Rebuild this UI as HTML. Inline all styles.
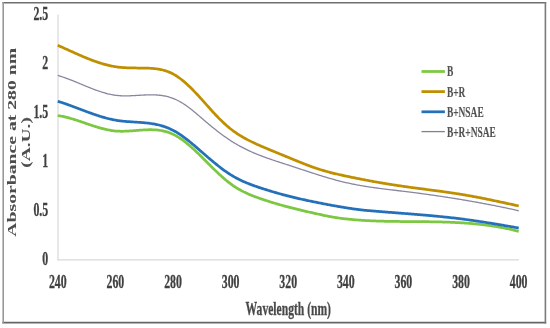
<!DOCTYPE html>
<html><head><meta charset="utf-8"><style>
html,body{margin:0;padding:0;background:#fff;}
svg{display:block;filter:blur(0.35px);}
text{font-family:"Liberation Serif",serif;font-weight:bold;}
</style></head><body>
<svg width="550" height="328" viewBox="0 0 550 328">
<rect x="0" y="0" width="550" height="328" fill="#fff"/>
<line x1="2.4" y1="2.8" x2="546.2" y2="2.8" stroke="#6e6e6e" stroke-width="1.6"/>
<line x1="2.4" y1="322.6" x2="546.2" y2="322.6" stroke="#666" stroke-width="1.7"/>
<line x1="3.2" y1="2" x2="3.2" y2="323.4" stroke="#999" stroke-width="1.6"/>
<line x1="545.4" y1="2" x2="545.4" y2="323.4" stroke="#7a7a7a" stroke-width="1.6"/>
<line x1="58" y1="14.6" x2="58" y2="260.5" stroke="#d9d9d9" stroke-width="1.2"/>
<line x1="57.4" y1="259.9" x2="519" y2="259.9" stroke="#d9d9d9" stroke-width="1.2"/>
<path d="M57.75 75.45 L58.75 75.74 L59.75 76.04 L60.75 76.35 L61.75 76.67 L62.75 77.00 L63.75 77.34 L64.75 77.69 L65.75 78.05 L66.75 78.41 L67.75 78.78 L68.75 79.16 L69.75 79.54 L70.75 79.93 L71.75 80.32 L72.75 80.72 L73.75 81.12 L74.75 81.53 L75.75 81.94 L76.75 82.35 L77.75 82.76 L78.75 83.18 L79.75 83.59 L80.75 84.01 L81.75 84.43 L82.75 84.85 L83.75 85.26 L84.75 85.68 L85.75 86.09 L86.75 86.50 L87.75 86.91 L88.75 87.31 L89.75 87.72 L90.75 88.11 L91.75 88.51 L92.75 88.89 L93.75 89.28 L94.75 89.65 L95.75 90.02 L96.75 90.38 L97.75 90.74 L98.75 91.08 L99.75 91.42 L100.75 91.75 L101.75 92.07 L102.75 92.38 L103.75 92.68 L104.75 92.97 L105.75 93.25 L106.75 93.51 L107.75 93.77 L108.75 94.01 L109.75 94.23 L110.75 94.45 L111.75 94.64 L112.75 94.83 L113.75 95.00 L114.75 95.15 L115.75 95.29 L116.75 95.41 L117.75 95.51 L118.75 95.60 L119.75 95.67 L120.75 95.73 L121.75 95.78 L122.75 95.82 L123.75 95.84 L124.75 95.85 L125.75 95.86 L126.75 95.85 L127.75 95.84 L128.75 95.81 L129.75 95.78 L130.75 95.75 L131.75 95.71 L132.75 95.66 L133.75 95.61 L134.75 95.55 L135.75 95.50 L136.75 95.44 L137.75 95.38 L138.75 95.32 L139.75 95.26 L140.75 95.20 L141.75 95.14 L142.75 95.09 L143.75 95.03 L144.75 94.99 L145.75 94.94 L146.75 94.91 L147.75 94.88 L148.75 94.85 L149.75 94.83 L150.75 94.83 L151.75 94.83 L152.75 94.84 L153.75 94.86 L154.75 94.89 L155.75 94.94 L156.75 95.00 L157.75 95.07 L158.75 95.15 L159.75 95.26 L160.75 95.37 L161.75 95.51 L162.75 95.66 L163.75 95.83 L164.75 96.01 L165.75 96.22 L166.75 96.45 L167.75 96.70 L168.75 96.97 L169.75 97.26 L170.75 97.57 L171.75 97.91 L172.75 98.28 L173.75 98.67 L174.75 99.09 L175.75 99.53 L176.75 99.99 L177.75 100.49 L178.75 101.00 L179.75 101.54 L180.75 102.11 L181.75 102.69 L182.75 103.31 L183.75 103.94 L184.75 104.59 L185.75 105.27 L186.75 105.97 L187.75 106.68 L188.75 107.42 L189.75 108.18 L190.75 108.96 L191.75 109.75 L192.75 110.56 L193.75 111.38 L194.75 112.21 L195.75 113.05 L196.75 113.90 L197.75 114.76 L198.75 115.62 L199.75 116.49 L200.75 117.35 L201.75 118.22 L202.75 119.08 L203.75 119.94 L204.75 120.80 L205.75 121.65 L206.75 122.49 L207.75 123.34 L208.75 124.17 L209.75 125.00 L210.75 125.83 L211.75 126.65 L212.75 127.46 L213.75 128.27 L214.75 129.07 L215.75 129.86 L216.75 130.65 L217.75 131.43 L218.75 132.20 L219.75 132.96 L220.75 133.71 L221.75 134.46 L222.75 135.19 L223.75 135.92 L224.75 136.63 L225.75 137.34 L226.75 138.04 L227.75 138.72 L228.75 139.40 L229.75 140.06 L230.75 140.71 L231.75 141.36 L232.75 141.99 L233.75 142.60 L234.75 143.21 L235.75 143.80 L236.75 144.39 L237.75 144.96 L238.75 145.52 L239.75 146.08 L240.75 146.62 L241.75 147.15 L242.75 147.67 L243.75 148.19 L244.75 148.69 L245.75 149.18 L246.75 149.67 L247.75 150.15 L248.75 150.62 L249.75 151.08 L250.75 151.53 L251.75 151.98 L252.75 152.42 L253.75 152.85 L254.75 153.28 L255.75 153.69 L256.75 154.10 L257.75 154.51 L258.75 154.91 L259.75 155.30 L260.75 155.69 L261.75 156.07 L262.75 156.45 L263.75 156.82 L264.75 157.19 L265.75 157.56 L266.75 157.92 L267.75 158.27 L268.75 158.62 L269.75 158.97 L270.75 159.32 L271.75 159.66 L272.75 160.00 L273.75 160.33 L274.75 160.67 L275.75 161.00 L276.75 161.33 L277.75 161.66 L278.75 161.99 L279.75 162.31 L280.75 162.64 L281.75 162.96 L282.75 163.28 L283.75 163.61 L284.75 163.93 L285.75 164.25 L286.75 164.58 L287.75 164.90 L288.75 165.22 L289.75 165.55 L290.75 165.88 L291.75 166.20 L292.75 166.53 L293.75 166.86 L294.75 167.19 L295.75 167.52 L296.75 167.85 L297.75 168.18 L298.75 168.51 L299.75 168.84 L300.75 169.17 L301.75 169.50 L302.75 169.83 L303.75 170.16 L304.75 170.49 L305.75 170.82 L306.75 171.15 L307.75 171.48 L308.75 171.81 L309.75 172.13 L310.75 172.46 L311.75 172.78 L312.75 173.11 L313.75 173.43 L314.75 173.75 L315.75 174.07 L316.75 174.39 L317.75 174.70 L318.75 175.02 L319.75 175.33 L320.75 175.64 L321.75 175.95 L322.75 176.26 L323.75 176.56 L324.75 176.87 L325.75 177.17 L326.75 177.46 L327.75 177.76 L328.75 178.05 L329.75 178.34 L330.75 178.63 L331.75 178.91 L332.75 179.19 L333.75 179.47 L334.75 179.75 L335.75 180.02 L336.75 180.29 L337.75 180.55 L338.75 180.81 L339.75 181.07 L340.75 181.33 L341.75 181.58 L342.75 181.82 L343.75 182.06 L344.75 182.30 L345.75 182.54 L346.75 182.77 L347.75 182.99 L348.75 183.21 L349.75 183.43 L350.75 183.64 L351.75 183.85 L352.75 184.06 L353.75 184.26 L354.75 184.45 L355.75 184.65 L356.75 184.84 L357.75 185.02 L358.75 185.21 L359.75 185.38 L360.75 185.56 L361.75 185.73 L362.75 185.90 L363.75 186.07 L364.75 186.24 L365.75 186.40 L366.75 186.56 L367.75 186.71 L368.75 186.86 L369.75 187.02 L370.75 187.16 L371.75 187.31 L372.75 187.46 L373.75 187.60 L374.75 187.74 L375.75 187.88 L376.75 188.01 L377.75 188.15 L378.75 188.28 L379.75 188.41 L380.75 188.54 L381.75 188.67 L382.75 188.80 L383.75 188.93 L384.75 189.05 L385.75 189.17 L386.75 189.30 L387.75 189.42 L388.75 189.54 L389.75 189.66 L390.75 189.78 L391.75 189.90 L392.75 190.02 L393.75 190.14 L394.75 190.26 L395.75 190.38 L396.75 190.50 L397.75 190.62 L398.75 190.74 L399.75 190.86 L400.75 190.98 L401.75 191.10 L402.75 191.22 L403.75 191.34 L404.75 191.46 L405.75 191.58 L406.75 191.71 L407.75 191.83 L408.75 191.96 L409.75 192.08 L410.75 192.21 L411.75 192.33 L412.75 192.46 L413.75 192.59 L414.75 192.72 L415.75 192.85 L416.75 192.98 L417.75 193.11 L418.75 193.24 L419.75 193.37 L420.75 193.51 L421.75 193.64 L422.75 193.78 L423.75 193.91 L424.75 194.05 L425.75 194.18 L426.75 194.32 L427.75 194.46 L428.75 194.60 L429.75 194.74 L430.75 194.88 L431.75 195.02 L432.75 195.16 L433.75 195.31 L434.75 195.45 L435.75 195.60 L436.75 195.74 L437.75 195.89 L438.75 196.04 L439.75 196.18 L440.75 196.33 L441.75 196.48 L442.75 196.63 L443.75 196.78 L444.75 196.94 L445.75 197.09 L446.75 197.24 L447.75 197.40 L448.75 197.55 L449.75 197.71 L450.75 197.87 L451.75 198.02 L452.75 198.18 L453.75 198.34 L454.75 198.50 L455.75 198.66 L456.75 198.83 L457.75 198.99 L458.75 199.15 L459.75 199.32 L460.75 199.48 L461.75 199.65 L462.75 199.82 L463.75 199.99 L464.75 200.16 L465.75 200.33 L466.75 200.50 L467.75 200.67 L468.75 200.84 L469.75 201.02 L470.75 201.19 L471.75 201.37 L472.75 201.55 L473.75 201.72 L474.75 201.90 L475.75 202.08 L476.75 202.26 L477.75 202.44 L478.75 202.63 L479.75 202.81 L480.75 202.99 L481.75 203.18 L482.75 203.36 L483.75 203.55 L484.75 203.74 L485.75 203.93 L486.75 204.12 L487.75 204.31 L488.75 204.50 L489.75 204.70 L490.75 204.89 L491.75 205.09 L492.75 205.28 L493.75 205.48 L494.75 205.68 L495.75 205.88 L496.75 206.08 L497.75 206.28 L498.75 206.48 L499.75 206.68 L500.75 206.89 L501.75 207.09 L502.75 207.30 L503.75 207.51 L504.75 207.72 L505.75 207.93 L506.75 208.14 L507.75 208.35 L508.75 208.56 L509.75 208.77 L510.75 208.99 L511.75 209.21 L512.75 209.42 L513.75 209.64 L514.75 209.86 L515.75 210.08 L516.75 210.30 L517.75 210.52 L518.75 210.75" fill="none" stroke="#8a86a0" stroke-width="1.3" stroke-linecap="butt" stroke-linejoin="round"/>
<path d="M57.75 115.59 L58.75 115.74 L59.75 115.90 L60.75 116.07 L61.75 116.26 L62.75 116.46 L63.75 116.68 L64.75 116.90 L65.75 117.14 L66.75 117.38 L67.75 117.64 L68.75 117.90 L69.75 118.18 L70.75 118.46 L71.75 118.75 L72.75 119.05 L73.75 119.35 L74.75 119.66 L75.75 119.98 L76.75 120.30 L77.75 120.63 L78.75 120.96 L79.75 121.29 L80.75 121.63 L81.75 121.97 L82.75 122.31 L83.75 122.65 L84.75 122.99 L85.75 123.33 L86.75 123.68 L87.75 124.02 L88.75 124.36 L89.75 124.70 L90.75 125.03 L91.75 125.36 L92.75 125.69 L93.75 126.02 L94.75 126.34 L95.75 126.65 L96.75 126.96 L97.75 127.26 L98.75 127.56 L99.75 127.85 L100.75 128.13 L101.75 128.40 L102.75 128.66 L103.75 128.92 L104.75 129.16 L105.75 129.39 L106.75 129.61 L107.75 129.82 L108.75 130.02 L109.75 130.21 L110.75 130.38 L111.75 130.53 L112.75 130.68 L113.75 130.80 L114.75 130.92 L115.75 131.01 L116.75 131.09 L117.75 131.16 L118.75 131.21 L119.75 131.24 L120.75 131.26 L121.75 131.27 L122.75 131.27 L123.75 131.25 L124.75 131.23 L125.75 131.20 L126.75 131.16 L127.75 131.11 L128.75 131.05 L129.75 130.99 L130.75 130.92 L131.75 130.85 L132.75 130.77 L133.75 130.70 L134.75 130.62 L135.75 130.53 L136.75 130.45 L137.75 130.37 L138.75 130.29 L139.75 130.21 L140.75 130.14 L141.75 130.07 L142.75 130.00 L143.75 129.94 L144.75 129.88 L145.75 129.83 L146.75 129.79 L147.75 129.76 L148.75 129.74 L149.75 129.73 L150.75 129.73 L151.75 129.74 L152.75 129.76 L153.75 129.80 L154.75 129.85 L155.75 129.91 L156.75 129.99 L157.75 130.09 L158.75 130.21 L159.75 130.34 L160.75 130.50 L161.75 130.67 L162.75 130.87 L163.75 131.08 L164.75 131.32 L165.75 131.58 L166.75 131.87 L167.75 132.18 L168.75 132.51 L169.75 132.88 L170.75 133.27 L171.75 133.68 L172.75 134.13 L173.75 134.61 L174.75 135.12 L175.75 135.65 L176.75 136.22 L177.75 136.81 L178.75 137.43 L179.75 138.08 L180.75 138.75 L181.75 139.44 L182.75 140.16 L183.75 140.90 L184.75 141.67 L185.75 142.45 L186.75 143.25 L187.75 144.07 L188.75 144.91 L189.75 145.76 L190.75 146.64 L191.75 147.52 L192.75 148.42 L193.75 149.33 L194.75 150.26 L195.75 151.20 L196.75 152.14 L197.75 153.10 L198.75 154.06 L199.75 155.04 L200.75 156.02 L201.75 157.00 L202.75 157.99 L203.75 158.98 L204.75 159.98 L205.75 160.98 L206.75 161.98 L207.75 162.98 L208.75 163.98 L209.75 164.98 L210.75 165.97 L211.75 166.97 L212.75 167.95 L213.75 168.94 L214.75 169.91 L215.75 170.88 L216.75 171.84 L217.75 172.80 L218.75 173.74 L219.75 174.67 L220.75 175.59 L221.75 176.50 L222.75 177.39 L223.75 178.27 L224.75 179.14 L225.75 179.98 L226.75 180.81 L227.75 181.63 L228.75 182.42 L229.75 183.19 L230.75 183.95 L231.75 184.68 L232.75 185.39 L233.75 186.07 L234.75 186.74 L235.75 187.38 L236.75 188.01 L237.75 188.61 L238.75 189.20 L239.75 189.77 L240.75 190.32 L241.75 190.85 L242.75 191.37 L243.75 191.88 L244.75 192.36 L245.75 192.84 L246.75 193.30 L247.75 193.75 L248.75 194.19 L249.75 194.61 L250.75 195.03 L251.75 195.43 L252.75 195.83 L253.75 196.21 L254.75 196.59 L255.75 196.96 L256.75 197.33 L257.75 197.69 L258.75 198.04 L259.75 198.39 L260.75 198.74 L261.75 199.08 L262.75 199.42 L263.75 199.75 L264.75 200.09 L265.75 200.42 L266.75 200.74 L267.75 201.06 L268.75 201.38 L269.75 201.70 L270.75 202.02 L271.75 202.33 L272.75 202.63 L273.75 202.94 L274.75 203.24 L275.75 203.54 L276.75 203.84 L277.75 204.13 L278.75 204.42 L279.75 204.71 L280.75 204.99 L281.75 205.27 L282.75 205.55 L283.75 205.83 L284.75 206.10 L285.75 206.38 L286.75 206.64 L287.75 206.91 L288.75 207.17 L289.75 207.43 L290.75 207.69 L291.75 207.95 L292.75 208.20 L293.75 208.45 L294.75 208.70 L295.75 208.95 L296.75 209.19 L297.75 209.43 L298.75 209.68 L299.75 209.91 L300.75 210.15 L301.75 210.39 L302.75 210.62 L303.75 210.86 L304.75 211.09 L305.75 211.32 L306.75 211.55 L307.75 211.77 L308.75 212.00 L309.75 212.23 L310.75 212.45 L311.75 212.68 L312.75 212.90 L313.75 213.12 L314.75 213.35 L315.75 213.57 L316.75 213.79 L317.75 214.01 L318.75 214.24 L319.75 214.46 L320.75 214.68 L321.75 214.89 L322.75 215.11 L323.75 215.32 L324.75 215.54 L325.75 215.74 L326.75 215.95 L327.75 216.15 L328.75 216.35 L329.75 216.54 L330.75 216.72 L331.75 216.91 L332.75 217.08 L333.75 217.25 L334.75 217.41 L335.75 217.57 L336.75 217.72 L337.75 217.87 L338.75 218.01 L339.75 218.15 L340.75 218.28 L341.75 218.41 L342.75 218.54 L343.75 218.66 L344.75 218.77 L345.75 218.88 L346.75 218.99 L347.75 219.10 L348.75 219.20 L349.75 219.30 L350.75 219.40 L351.75 219.49 L352.75 219.58 L353.75 219.67 L354.75 219.76 L355.75 219.84 L356.75 219.92 L357.75 220.00 L358.75 220.07 L359.75 220.15 L360.75 220.21 L361.75 220.28 L362.75 220.35 L363.75 220.41 L364.75 220.47 L365.75 220.53 L366.75 220.58 L367.75 220.64 L368.75 220.69 L369.75 220.74 L370.75 220.78 L371.75 220.83 L372.75 220.87 L373.75 220.91 L374.75 220.95 L375.75 220.99 L376.75 221.03 L377.75 221.06 L378.75 221.10 L379.75 221.13 L380.75 221.16 L381.75 221.18 L382.75 221.21 L383.75 221.24 L384.75 221.26 L385.75 221.28 L386.75 221.31 L387.75 221.33 L388.75 221.34 L389.75 221.36 L390.75 221.38 L391.75 221.40 L392.75 221.41 L393.75 221.43 L394.75 221.44 L395.75 221.45 L396.75 221.46 L397.75 221.48 L398.75 221.49 L399.75 221.50 L400.75 221.51 L401.75 221.51 L402.75 221.52 L403.75 221.53 L404.75 221.54 L405.75 221.55 L406.75 221.55 L407.75 221.56 L408.75 221.57 L409.75 221.57 L410.75 221.58 L411.75 221.59 L412.75 221.59 L413.75 221.60 L414.75 221.61 L415.75 221.61 L416.75 221.62 L417.75 221.63 L418.75 221.64 L419.75 221.64 L420.75 221.65 L421.75 221.66 L422.75 221.67 L423.75 221.68 L424.75 221.69 L425.75 221.70 L426.75 221.71 L427.75 221.72 L428.75 221.74 L429.75 221.75 L430.75 221.76 L431.75 221.78 L432.75 221.79 L433.75 221.81 L434.75 221.83 L435.75 221.85 L436.75 221.87 L437.75 221.89 L438.75 221.91 L439.75 221.93 L440.75 221.96 L441.75 221.98 L442.75 222.01 L443.75 222.04 L444.75 222.07 L445.75 222.10 L446.75 222.14 L447.75 222.17 L448.75 222.21 L449.75 222.24 L450.75 222.28 L451.75 222.32 L452.75 222.37 L453.75 222.41 L454.75 222.46 L455.75 222.51 L456.75 222.56 L457.75 222.61 L458.75 222.66 L459.75 222.72 L460.75 222.78 L461.75 222.84 L462.75 222.90 L463.75 222.97 L464.75 223.04 L465.75 223.11 L466.75 223.18 L467.75 223.25 L468.75 223.33 L469.75 223.41 L470.75 223.49 L471.75 223.58 L472.75 223.67 L473.75 223.76 L474.75 223.85 L475.75 223.94 L476.75 224.04 L477.75 224.15 L478.75 224.25 L479.75 224.36 L480.75 224.47 L481.75 224.58 L482.75 224.70 L483.75 224.82 L484.75 224.94 L485.75 225.07 L486.75 225.20 L487.75 225.33 L488.75 225.46 L489.75 225.60 L490.75 225.75 L491.75 225.89 L492.75 226.04 L493.75 226.20 L494.75 226.35 L495.75 226.51 L496.75 226.68 L497.75 226.85 L498.75 227.02 L499.75 227.20 L500.75 227.38 L501.75 227.56 L502.75 227.75 L503.75 227.94 L504.75 228.14 L505.75 228.33 L506.75 228.54 L507.75 228.75 L508.75 228.96 L509.75 229.18 L510.75 229.40 L511.75 229.62 L512.75 229.85 L513.75 230.09 L514.75 230.33 L515.75 230.57 L516.75 230.82 L517.75 231.07 L518.75 231.33" fill="none" stroke="#7cc842" stroke-width="2.75" stroke-linecap="butt" stroke-linejoin="round"/>
<path d="M57.75 101.30 L58.75 101.61 L59.75 101.92 L60.75 102.23 L61.75 102.56 L62.75 102.89 L63.75 103.22 L64.75 103.56 L65.75 103.90 L66.75 104.25 L67.75 104.61 L68.75 104.96 L69.75 105.32 L70.75 105.69 L71.75 106.05 L72.75 106.42 L73.75 106.80 L74.75 107.17 L75.75 107.54 L76.75 107.92 L77.75 108.30 L78.75 108.68 L79.75 109.06 L80.75 109.43 L81.75 109.81 L82.75 110.19 L83.75 110.57 L84.75 110.94 L85.75 111.32 L86.75 111.69 L87.75 112.06 L88.75 112.42 L89.75 112.79 L90.75 113.15 L91.75 113.51 L92.75 113.86 L93.75 114.21 L94.75 114.56 L95.75 114.90 L96.75 115.23 L97.75 115.56 L98.75 115.89 L99.75 116.20 L100.75 116.51 L101.75 116.82 L102.75 117.12 L103.75 117.41 L104.75 117.69 L105.75 117.96 L106.75 118.23 L107.75 118.49 L108.75 118.74 L109.75 118.98 L110.75 119.21 L111.75 119.43 L112.75 119.63 L113.75 119.83 L114.75 120.02 L115.75 120.20 L116.75 120.36 L117.75 120.52 L118.75 120.66 L119.75 120.80 L120.75 120.92 L121.75 121.04 L122.75 121.15 L123.75 121.25 L124.75 121.34 L125.75 121.43 L126.75 121.52 L127.75 121.59 L128.75 121.67 L129.75 121.74 L130.75 121.81 L131.75 121.87 L132.75 121.94 L133.75 122.00 L134.75 122.06 L135.75 122.12 L136.75 122.19 L137.75 122.25 L138.75 122.32 L139.75 122.39 L140.75 122.46 L141.75 122.54 L142.75 122.62 L143.75 122.70 L144.75 122.79 L145.75 122.89 L146.75 123.00 L147.75 123.11 L148.75 123.23 L149.75 123.36 L150.75 123.50 L151.75 123.64 L152.75 123.80 L153.75 123.97 L154.75 124.16 L155.75 124.35 L156.75 124.56 L157.75 124.78 L158.75 125.01 L159.75 125.26 L160.75 125.53 L161.75 125.81 L162.75 126.11 L163.75 126.43 L164.75 126.76 L165.75 127.11 L166.75 127.49 L167.75 127.88 L168.75 128.29 L169.75 128.72 L170.75 129.18 L171.75 129.65 L172.75 130.15 L173.75 130.68 L174.75 131.23 L175.75 131.80 L176.75 132.39 L177.75 133.00 L178.75 133.64 L179.75 134.30 L180.75 134.97 L181.75 135.66 L182.75 136.37 L183.75 137.10 L184.75 137.84 L185.75 138.59 L186.75 139.36 L187.75 140.14 L188.75 140.94 L189.75 141.74 L190.75 142.56 L191.75 143.39 L192.75 144.22 L193.75 145.06 L194.75 145.91 L195.75 146.76 L196.75 147.62 L197.75 148.49 L198.75 149.35 L199.75 150.22 L200.75 151.09 L201.75 151.96 L202.75 152.83 L203.75 153.70 L204.75 154.57 L205.75 155.44 L206.75 156.30 L207.75 157.17 L208.75 158.02 L209.75 158.88 L210.75 159.72 L211.75 160.57 L212.75 161.40 L213.75 162.23 L214.75 163.05 L215.75 163.87 L216.75 164.68 L217.75 165.48 L218.75 166.26 L219.75 167.04 L220.75 167.81 L221.75 168.57 L222.75 169.32 L223.75 170.05 L224.75 170.77 L225.75 171.48 L226.75 172.18 L227.75 172.86 L228.75 173.52 L229.75 174.17 L230.75 174.81 L231.75 175.43 L232.75 176.03 L233.75 176.61 L234.75 177.18 L235.75 177.73 L236.75 178.27 L237.75 178.80 L238.75 179.31 L239.75 179.80 L240.75 180.28 L241.75 180.76 L242.75 181.21 L243.75 181.66 L244.75 182.10 L245.75 182.52 L246.75 182.94 L247.75 183.35 L248.75 183.74 L249.75 184.13 L250.75 184.51 L251.75 184.89 L252.75 185.25 L253.75 185.61 L254.75 185.97 L255.75 186.32 L256.75 186.66 L257.75 187.00 L258.75 187.34 L259.75 187.67 L260.75 188.00 L261.75 188.32 L262.75 188.65 L263.75 188.97 L264.75 189.29 L265.75 189.60 L266.75 189.92 L267.75 190.23 L268.75 190.54 L269.75 190.85 L270.75 191.15 L271.75 191.45 L272.75 191.75 L273.75 192.05 L274.75 192.34 L275.75 192.63 L276.75 192.92 L277.75 193.20 L278.75 193.49 L279.75 193.77 L280.75 194.05 L281.75 194.32 L282.75 194.59 L283.75 194.86 L284.75 195.13 L285.75 195.39 L286.75 195.65 L287.75 195.91 L288.75 196.17 L289.75 196.42 L290.75 196.67 L291.75 196.92 L292.75 197.16 L293.75 197.40 L294.75 197.64 L295.75 197.88 L296.75 198.11 L297.75 198.35 L298.75 198.58 L299.75 198.81 L300.75 199.03 L301.75 199.25 L302.75 199.48 L303.75 199.70 L304.75 199.91 L305.75 200.13 L306.75 200.35 L307.75 200.56 L308.75 200.77 L309.75 200.98 L310.75 201.19 L311.75 201.39 L312.75 201.60 L313.75 201.80 L314.75 202.01 L315.75 202.21 L316.75 202.41 L317.75 202.61 L318.75 202.81 L319.75 203.01 L320.75 203.20 L321.75 203.40 L322.75 203.59 L323.75 203.79 L324.75 203.98 L325.75 204.17 L326.75 204.36 L327.75 204.55 L328.75 204.74 L329.75 204.93 L330.75 205.11 L331.75 205.30 L332.75 205.48 L333.75 205.66 L334.75 205.84 L335.75 206.02 L336.75 206.19 L337.75 206.37 L338.75 206.54 L339.75 206.71 L340.75 206.88 L341.75 207.05 L342.75 207.22 L343.75 207.38 L344.75 207.54 L345.75 207.71 L346.75 207.86 L347.75 208.02 L348.75 208.18 L349.75 208.33 L350.75 208.48 L351.75 208.63 L352.75 208.77 L353.75 208.92 L354.75 209.06 L355.75 209.19 L356.75 209.33 L357.75 209.46 L358.75 209.58 L359.75 209.70 L360.75 209.82 L361.75 209.94 L362.75 210.05 L363.75 210.16 L364.75 210.26 L365.75 210.36 L366.75 210.45 L367.75 210.55 L368.75 210.64 L369.75 210.73 L370.75 210.82 L371.75 210.90 L372.75 210.99 L373.75 211.07 L374.75 211.15 L375.75 211.23 L376.75 211.31 L377.75 211.39 L378.75 211.47 L379.75 211.55 L380.75 211.63 L381.75 211.71 L382.75 211.79 L383.75 211.87 L384.75 211.95 L385.75 212.03 L386.75 212.11 L387.75 212.18 L388.75 212.26 L389.75 212.34 L390.75 212.42 L391.75 212.49 L392.75 212.57 L393.75 212.65 L394.75 212.73 L395.75 212.80 L396.75 212.88 L397.75 212.96 L398.75 213.04 L399.75 213.11 L400.75 213.19 L401.75 213.27 L402.75 213.35 L403.75 213.42 L404.75 213.50 L405.75 213.58 L406.75 213.66 L407.75 213.74 L408.75 213.81 L409.75 213.89 L410.75 213.97 L411.75 214.05 L412.75 214.13 L413.75 214.21 L414.75 214.29 L415.75 214.37 L416.75 214.45 L417.75 214.54 L418.75 214.62 L419.75 214.70 L420.75 214.78 L421.75 214.87 L422.75 214.95 L423.75 215.04 L424.75 215.12 L425.75 215.21 L426.75 215.30 L427.75 215.38 L428.75 215.47 L429.75 215.56 L430.75 215.65 L431.75 215.74 L432.75 215.83 L433.75 215.93 L434.75 216.02 L435.75 216.11 L436.75 216.21 L437.75 216.31 L438.75 216.40 L439.75 216.50 L440.75 216.60 L441.75 216.70 L442.75 216.80 L443.75 216.90 L444.75 217.01 L445.75 217.11 L446.75 217.22 L447.75 217.32 L448.75 217.43 L449.75 217.54 L450.75 217.65 L451.75 217.77 L452.75 217.88 L453.75 217.99 L454.75 218.11 L455.75 218.23 L456.75 218.35 L457.75 218.47 L458.75 218.59 L459.75 218.71 L460.75 218.84 L461.75 218.96 L462.75 219.09 L463.75 219.22 L464.75 219.35 L465.75 219.49 L466.75 219.62 L467.75 219.76 L468.75 219.89 L469.75 220.03 L470.75 220.17 L471.75 220.31 L472.75 220.46 L473.75 220.60 L474.75 220.75 L475.75 220.89 L476.75 221.04 L477.75 221.19 L478.75 221.34 L479.75 221.49 L480.75 221.64 L481.75 221.80 L482.75 221.95 L483.75 222.11 L484.75 222.26 L485.75 222.42 L486.75 222.58 L487.75 222.74 L488.75 222.90 L489.75 223.06 L490.75 223.22 L491.75 223.39 L492.75 223.55 L493.75 223.72 L494.75 223.88 L495.75 224.05 L496.75 224.21 L497.75 224.38 L498.75 224.55 L499.75 224.72 L500.75 224.89 L501.75 225.06 L502.75 225.23 L503.75 225.40 L504.75 225.57 L505.75 225.74 L506.75 225.91 L507.75 226.09 L508.75 226.26 L509.75 226.43 L510.75 226.61 L511.75 226.78 L512.75 226.95 L513.75 227.13 L514.75 227.30 L515.75 227.48 L516.75 227.65 L517.75 227.83 L518.75 228.00" fill="none" stroke="#2471b9" stroke-width="2.75" stroke-linecap="butt" stroke-linejoin="round"/>
<path d="M57.75 45.31 L58.75 45.75 L59.75 46.19 L60.75 46.64 L61.75 47.09 L62.75 47.54 L63.75 47.99 L64.75 48.44 L65.75 48.89 L66.75 49.35 L67.75 49.80 L68.75 50.25 L69.75 50.71 L70.75 51.16 L71.75 51.61 L72.75 52.06 L73.75 52.51 L74.75 52.96 L75.75 53.41 L76.75 53.85 L77.75 54.30 L78.75 54.74 L79.75 55.17 L80.75 55.61 L81.75 56.04 L82.75 56.46 L83.75 56.89 L84.75 57.30 L85.75 57.72 L86.75 58.13 L87.75 58.53 L88.75 58.93 L89.75 59.33 L90.75 59.71 L91.75 60.10 L92.75 60.47 L93.75 60.84 L94.75 61.20 L95.75 61.56 L96.75 61.90 L97.75 62.24 L98.75 62.58 L99.75 62.90 L100.75 63.22 L101.75 63.52 L102.75 63.82 L103.75 64.11 L104.75 64.39 L105.75 64.66 L106.75 64.92 L107.75 65.17 L108.75 65.40 L109.75 65.63 L110.75 65.85 L111.75 66.05 L112.75 66.25 L113.75 66.43 L114.75 66.60 L115.75 66.76 L116.75 66.90 L117.75 67.03 L118.75 67.15 L119.75 67.26 L120.75 67.36 L121.75 67.45 L122.75 67.53 L123.75 67.61 L124.75 67.67 L125.75 67.73 L126.75 67.78 L127.75 67.82 L128.75 67.85 L129.75 67.89 L130.75 67.91 L131.75 67.93 L132.75 67.95 L133.75 67.97 L134.75 67.98 L135.75 67.99 L136.75 68.00 L137.75 68.01 L138.75 68.02 L139.75 68.02 L140.75 68.03 L141.75 68.04 L142.75 68.06 L143.75 68.07 L144.75 68.09 L145.75 68.11 L146.75 68.13 L147.75 68.17 L148.75 68.20 L149.75 68.25 L150.75 68.31 L151.75 68.37 L152.75 68.44 L153.75 68.53 L154.75 68.63 L155.75 68.75 L156.75 68.87 L157.75 69.02 L158.75 69.18 L159.75 69.36 L160.75 69.56 L161.75 69.78 L162.75 70.02 L163.75 70.28 L164.75 70.56 L165.75 70.87 L166.75 71.21 L167.75 71.57 L168.75 71.95 L169.75 72.37 L170.75 72.81 L171.75 73.29 L172.75 73.80 L173.75 74.34 L174.75 74.91 L175.75 75.51 L176.75 76.15 L177.75 76.82 L178.75 77.51 L179.75 78.24 L180.75 78.99 L181.75 79.77 L182.75 80.57 L183.75 81.40 L184.75 82.26 L185.75 83.13 L186.75 84.03 L187.75 84.95 L188.75 85.89 L189.75 86.84 L190.75 87.82 L191.75 88.81 L192.75 89.82 L193.75 90.84 L194.75 91.88 L195.75 92.92 L196.75 93.99 L197.75 95.06 L198.75 96.14 L199.75 97.23 L200.75 98.33 L201.75 99.44 L202.75 100.55 L203.75 101.67 L204.75 102.80 L205.75 103.92 L206.75 105.05 L207.75 106.17 L208.75 107.29 L209.75 108.41 L210.75 109.53 L211.75 110.64 L212.75 111.74 L213.75 112.83 L214.75 113.91 L215.75 114.98 L216.75 116.03 L217.75 117.07 L218.75 118.10 L219.75 119.11 L220.75 120.10 L221.75 121.07 L222.75 122.02 L223.75 122.96 L224.75 123.88 L225.75 124.78 L226.75 125.66 L227.75 126.52 L228.75 127.36 L229.75 128.19 L230.75 128.99 L231.75 129.77 L232.75 130.53 L233.75 131.27 L234.75 131.99 L235.75 132.69 L236.75 133.38 L237.75 134.04 L238.75 134.69 L239.75 135.32 L240.75 135.94 L241.75 136.54 L242.75 137.13 L243.75 137.70 L244.75 138.26 L245.75 138.81 L246.75 139.35 L247.75 139.87 L248.75 140.39 L249.75 140.89 L250.75 141.39 L251.75 141.87 L252.75 142.35 L253.75 142.82 L254.75 143.28 L255.75 143.74 L256.75 144.19 L257.75 144.64 L258.75 145.08 L259.75 145.52 L260.75 145.95 L261.75 146.39 L262.75 146.82 L263.75 147.25 L264.75 147.67 L265.75 148.10 L266.75 148.52 L267.75 148.94 L268.75 149.36 L269.75 149.78 L270.75 150.20 L271.75 150.61 L272.75 151.03 L273.75 151.44 L274.75 151.85 L275.75 152.26 L276.75 152.67 L277.75 153.08 L278.75 153.49 L279.75 153.90 L280.75 154.31 L281.75 154.72 L282.75 155.13 L283.75 155.54 L284.75 155.95 L285.75 156.36 L286.75 156.77 L287.75 157.18 L288.75 157.59 L289.75 158.00 L290.75 158.41 L291.75 158.82 L292.75 159.24 L293.75 159.65 L294.75 160.06 L295.75 160.47 L296.75 160.88 L297.75 161.29 L298.75 161.69 L299.75 162.10 L300.75 162.50 L301.75 162.90 L302.75 163.30 L303.75 163.70 L304.75 164.09 L305.75 164.48 L306.75 164.86 L307.75 165.24 L308.75 165.62 L309.75 165.99 L310.75 166.36 L311.75 166.73 L312.75 167.09 L313.75 167.44 L314.75 167.79 L315.75 168.13 L316.75 168.47 L317.75 168.80 L318.75 169.12 L319.75 169.44 L320.75 169.75 L321.75 170.05 L322.75 170.35 L323.75 170.64 L324.75 170.93 L325.75 171.21 L326.75 171.49 L327.75 171.76 L328.75 172.03 L329.75 172.30 L330.75 172.55 L331.75 172.81 L332.75 173.06 L333.75 173.31 L334.75 173.55 L335.75 173.79 L336.75 174.03 L337.75 174.26 L338.75 174.49 L339.75 174.72 L340.75 174.94 L341.75 175.17 L342.75 175.39 L343.75 175.61 L344.75 175.82 L345.75 176.04 L346.75 176.25 L347.75 176.46 L348.75 176.68 L349.75 176.89 L350.75 177.09 L351.75 177.30 L352.75 177.51 L353.75 177.71 L354.75 177.92 L355.75 178.12 L356.75 178.32 L357.75 178.52 L358.75 178.72 L359.75 178.92 L360.75 179.11 L361.75 179.31 L362.75 179.50 L363.75 179.70 L364.75 179.89 L365.75 180.08 L366.75 180.27 L367.75 180.46 L368.75 180.64 L369.75 180.83 L370.75 181.01 L371.75 181.19 L372.75 181.38 L373.75 181.56 L374.75 181.74 L375.75 181.91 L376.75 182.09 L377.75 182.27 L378.75 182.44 L379.75 182.61 L380.75 182.78 L381.75 182.96 L382.75 183.12 L383.75 183.29 L384.75 183.46 L385.75 183.63 L386.75 183.79 L387.75 183.95 L388.75 184.12 L389.75 184.28 L390.75 184.44 L391.75 184.59 L392.75 184.75 L393.75 184.91 L394.75 185.06 L395.75 185.22 L396.75 185.37 L397.75 185.52 L398.75 185.67 L399.75 185.82 L400.75 185.97 L401.75 186.11 L402.75 186.26 L403.75 186.40 L404.75 186.55 L405.75 186.69 L406.75 186.83 L407.75 186.97 L408.75 187.11 L409.75 187.24 L410.75 187.38 L411.75 187.52 L412.75 187.65 L413.75 187.79 L414.75 187.92 L415.75 188.05 L416.75 188.19 L417.75 188.32 L418.75 188.45 L419.75 188.58 L420.75 188.71 L421.75 188.84 L422.75 188.97 L423.75 189.10 L424.75 189.23 L425.75 189.36 L426.75 189.49 L427.75 189.62 L428.75 189.75 L429.75 189.89 L430.75 190.02 L431.75 190.15 L432.75 190.28 L433.75 190.41 L434.75 190.54 L435.75 190.67 L436.75 190.81 L437.75 190.94 L438.75 191.08 L439.75 191.21 L440.75 191.35 L441.75 191.48 L442.75 191.62 L443.75 191.76 L444.75 191.90 L445.75 192.04 L446.75 192.18 L447.75 192.32 L448.75 192.46 L449.75 192.61 L450.75 192.76 L451.75 192.90 L452.75 193.05 L453.75 193.20 L454.75 193.35 L455.75 193.51 L456.75 193.66 L457.75 193.82 L458.75 193.98 L459.75 194.14 L460.75 194.30 L461.75 194.46 L462.75 194.63 L463.75 194.80 L464.75 194.97 L465.75 195.14 L466.75 195.31 L467.75 195.49 L468.75 195.66 L469.75 195.84 L470.75 196.02 L471.75 196.20 L472.75 196.39 L473.75 196.57 L474.75 196.76 L475.75 196.95 L476.75 197.14 L477.75 197.33 L478.75 197.52 L479.75 197.71 L480.75 197.91 L481.75 198.10 L482.75 198.30 L483.75 198.50 L484.75 198.70 L485.75 198.90 L486.75 199.10 L487.75 199.30 L488.75 199.51 L489.75 199.71 L490.75 199.92 L491.75 200.13 L492.75 200.34 L493.75 200.54 L494.75 200.75 L495.75 200.97 L496.75 201.18 L497.75 201.39 L498.75 201.60 L499.75 201.82 L500.75 202.03 L501.75 202.25 L502.75 202.46 L503.75 202.68 L504.75 202.89 L505.75 203.11 L506.75 203.33 L507.75 203.55 L508.75 203.76 L509.75 203.98 L510.75 204.20 L511.75 204.42 L512.75 204.64 L513.75 204.86 L514.75 205.08 L515.75 205.30 L516.75 205.52 L517.75 205.74 L518.75 205.96" fill="none" stroke="#bf8f00" stroke-width="2.75" stroke-linecap="butt" stroke-linejoin="round"/>
<text transform="translate(48.2 265.4) scale(0.665 1)" text-anchor="end" font-size="17.8" fill="#404040" stroke="#404040" stroke-width="0.3">0</text>
<text transform="translate(48.2 216.4) scale(0.665 1)" text-anchor="end" font-size="17.8" fill="#404040" stroke="#404040" stroke-width="0.3">0.5</text>
<text transform="translate(48.2 167.4) scale(0.665 1)" text-anchor="end" font-size="17.8" fill="#404040" stroke="#404040" stroke-width="0.3">1</text>
<text transform="translate(48.2 118.4) scale(0.665 1)" text-anchor="end" font-size="17.8" fill="#404040" stroke="#404040" stroke-width="0.3">1.5</text>
<text transform="translate(48.2 69.4) scale(0.665 1)" text-anchor="end" font-size="17.8" fill="#404040" stroke="#404040" stroke-width="0.3">2</text>
<text transform="translate(48.2 20.4) scale(0.665 1)" text-anchor="end" font-size="17.8" fill="#404040" stroke="#404040" stroke-width="0.3">2.5</text>
<text transform="translate(57.8 287.5) scale(0.665 1)" text-anchor="middle" font-size="17.8" fill="#404040" stroke="#404040" stroke-width="0.3">240</text>
<text transform="translate(115.4 287.5) scale(0.665 1)" text-anchor="middle" font-size="17.8" fill="#404040" stroke="#404040" stroke-width="0.3">260</text>
<text transform="translate(173.0 287.5) scale(0.665 1)" text-anchor="middle" font-size="17.8" fill="#404040" stroke="#404040" stroke-width="0.3">280</text>
<text transform="translate(230.6 287.5) scale(0.665 1)" text-anchor="middle" font-size="17.8" fill="#404040" stroke="#404040" stroke-width="0.3">300</text>
<text transform="translate(288.2 287.5) scale(0.665 1)" text-anchor="middle" font-size="17.8" fill="#404040" stroke="#404040" stroke-width="0.3">320</text>
<text transform="translate(345.8 287.5) scale(0.665 1)" text-anchor="middle" font-size="17.8" fill="#404040" stroke="#404040" stroke-width="0.3">340</text>
<text transform="translate(403.4 287.5) scale(0.665 1)" text-anchor="middle" font-size="17.8" fill="#404040" stroke="#404040" stroke-width="0.3">360</text>
<text transform="translate(461.0 287.5) scale(0.665 1)" text-anchor="middle" font-size="17.8" fill="#404040" stroke="#404040" stroke-width="0.3">380</text>
<text transform="translate(518.6 287.5) scale(0.665 1)" text-anchor="middle" font-size="17.8" fill="#404040" stroke="#404040" stroke-width="0.3">400</text>
<text transform="translate(288.3 314.5) scale(0.645 1)" text-anchor="middle" font-size="18" fill="#484848" stroke="#484848" stroke-width="0.3">Wavelength (nm)</text>
<line x1="421.5" y1="71.5" x2="444.9" y2="71.5" stroke="#7cc842" stroke-width="2.75"/>
<text transform="translate(446.9 76.4) scale(0.65 1)" text-anchor="start" font-size="14.5" fill="#525252" stroke="#525252" stroke-width="0.15">B</text>
<line x1="421.5" y1="91.6" x2="444.9" y2="91.6" stroke="#bf8f00" stroke-width="2.75"/>
<text transform="translate(446.9 96.5) scale(0.65 1)" text-anchor="start" font-size="14.5" fill="#525252" stroke="#525252" stroke-width="0.15">B+R</text>
<line x1="421.5" y1="111.8" x2="444.9" y2="111.8" stroke="#2471b9" stroke-width="2.75"/>
<text transform="translate(446.9 116.7) scale(0.65 1)" text-anchor="start" font-size="14.5" fill="#525252" stroke="#525252" stroke-width="0.15">B+NSAE</text>
<line x1="421.5" y1="131.6" x2="444.9" y2="131.6" stroke="#827d9b" stroke-width="1.3"/>
<text transform="translate(446.9 136.5) scale(0.65 1)" text-anchor="start" font-size="14.5" fill="#525252" stroke="#525252" stroke-width="0.15">B+R+NSAE</text>
<text transform="translate(15.5 142.3) scale(0.63 1) rotate(-90)" text-anchor="middle" font-size="19.7" fill="#4d4d4d" stroke="#4d4d4d" stroke-width="0.05">Absorbance at 280 nm</text>
<text transform="translate(30.3 142.4) scale(0.63 1) rotate(-90)" text-anchor="middle" font-size="19.4" fill="#4d4d4d" stroke="#4d4d4d" stroke-width="0.05">(A.U.)</text>
</svg>
</body></html>
